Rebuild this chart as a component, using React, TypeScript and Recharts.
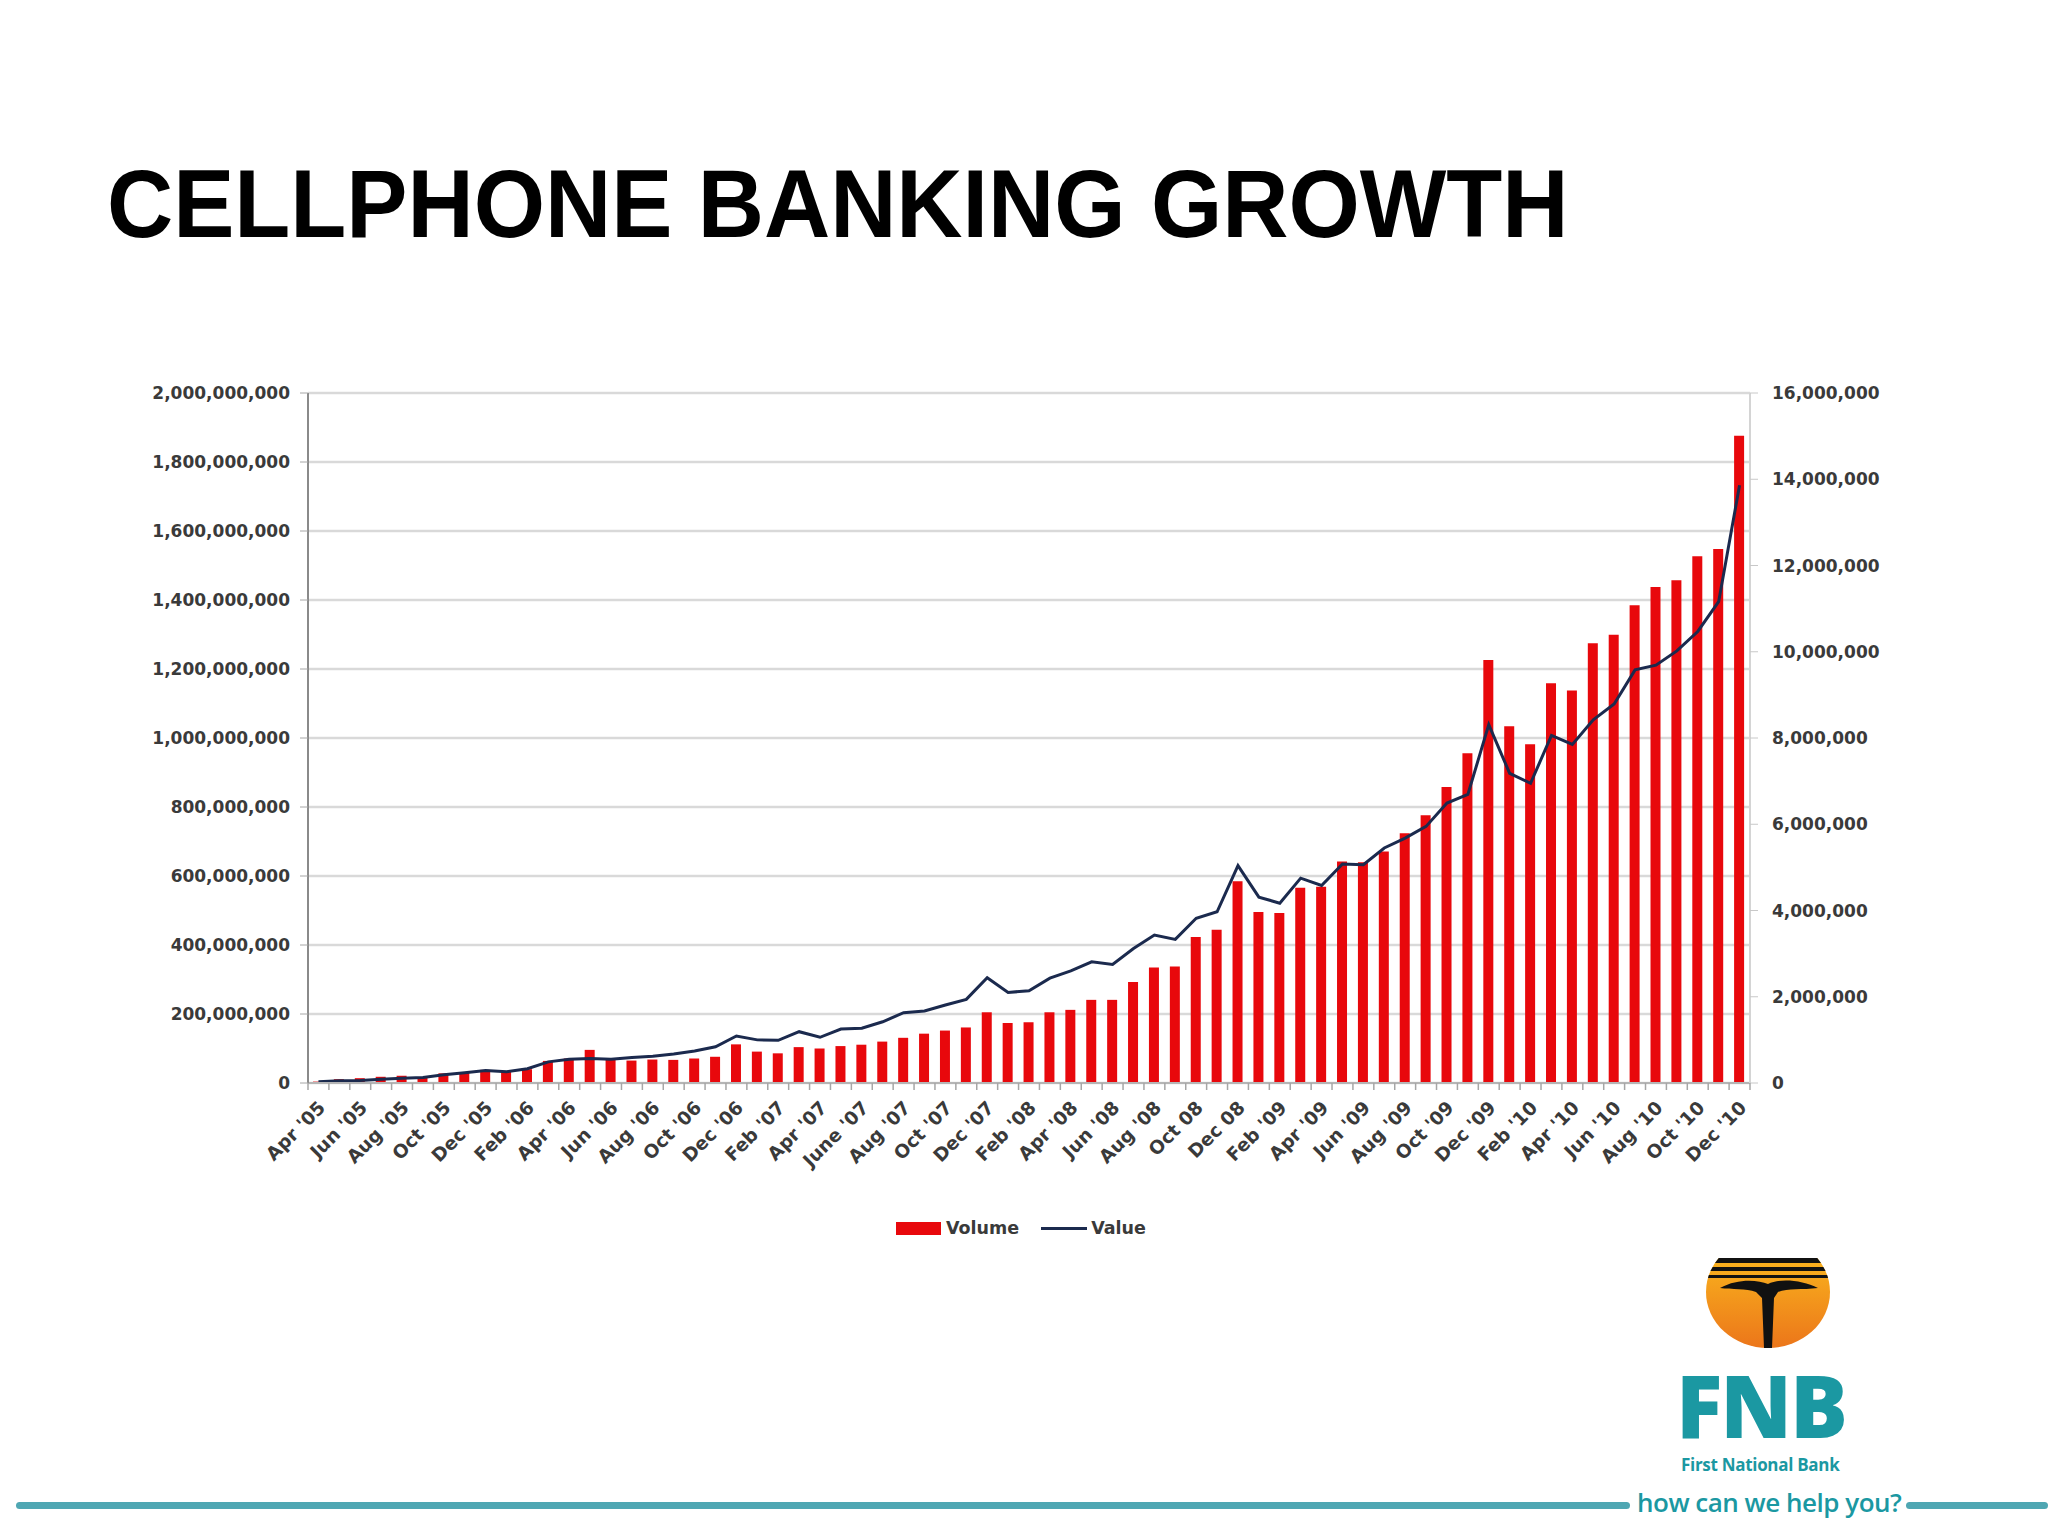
import React from "react";
import {
  ComposedChart,
  Bar,
  Line,
  XAxis,
  YAxis,
  CartesianGrid,
  Legend,
} from "recharts";

// months Apr '05 .. Dec '10
const categories = [
  "Apr 05", "May 05", "Jun 05", "Jul 05", "Aug 05", "Sep 05", "Oct 05", "Nov 05", "Dec 05",
  "Jan 06", "Feb 06", "Mar 06", "Apr 06", "May 06", "Jun 06", "Jul 06", "Aug 06", "Sep 06", "Oct 06", "Nov 06", "Dec 06",
  "Jan 07", "Feb 07", "Mar 07", "Apr 07", "May 07", "Jun 07", "Jul 07", "Aug 07", "Sep 07", "Oct 07", "Nov 07", "Dec 07",
  "Jan 08", "Feb 08", "Mar 08", "Apr 08", "May 08", "Jun 08", "Jul 08", "Aug 08", "Sep 08", "Oct 08", "Nov 08", "Dec 08",
  "Jan 09", "Feb 09", "Mar 09", "Apr 09", "May 09", "Jun 09", "Jul 09", "Aug 09", "Sep 09", "Oct 09", "Nov 09", "Dec 09",
  "Jan 10", "Feb 10", "Mar 10", "Apr 10", "May 10", "Jun 10", "Jul 10", "Aug 10", "Sep 10", "Oct 10", "Nov 10", "Dec 10",
];

// shown on every second month
const tickLabels = [
  "Apr '05", "Jun '05", "Aug '05", "Oct '05", "Dec '05", "Feb '06", "Apr '06",
  "Jun '06", "Aug '06", "Oct '06", "Dec '06", "Feb '07", "Apr '07", "June '07",
  "Aug '07", "Oct '07", "Dec '07", "Feb '08", "Apr '08", "Jun '08", "Aug '08",
  "Oct 08", "Dec 08", "Feb '09", "Apr '09", "Jun '09", "Aug '09", "Oct '09",
  "Dec '09", "Feb '10", "Apr '10", "Jun '10", "Aug '10", "Oct '10", "Dec '10",
];

// volume, millions
const volumeM = [
  4, 11, 14, 18, 21, 16, 28, 30, 38, 33,
  40, 64, 71, 96, 70, 65, 68, 67, 71, 76,
  112, 91, 86, 104, 100, 107, 111, 120, 131, 143,
  152, 161, 205, 174, 176, 205, 212, 241, 241, 293,
  335, 338, 423, 444, 585, 496, 493, 566, 569, 642,
  640, 671, 724, 776, 858, 956, 1226, 1034, 982, 1159,
  1138, 1275, 1299, 1385, 1438, 1457, 1527, 1548, 1876,
];

// value, millions
const valueM = [
  0.03, 0.05, 0.06, 0.085, 0.11, 0.13, 0.19, 0.24, 0.29, 0.26,
  0.33, 0.49, 0.55, 0.57, 0.55, 0.59, 0.62, 0.67, 0.74, 0.84,
  1.09, 1.0, 0.99, 1.19, 1.06, 1.25, 1.27, 1.42, 1.63, 1.67,
  1.81, 1.94, 2.44, 2.1, 2.14, 2.43, 2.6, 2.81, 2.75, 3.12,
  3.43, 3.33, 3.82, 3.97, 5.04, 4.31, 4.17, 4.75, 4.58, 5.08,
  5.06, 5.45, 5.68, 5.95, 6.49, 6.69, 8.31, 7.18, 6.95, 8.06,
  7.85, 8.42, 8.79, 9.58, 9.69, 10.02, 10.47, 11.16, 13.86,
];

const volumeTicks = [0, 2e8, 4e8, 6e8, 8e8, 1e9, 1.2e9, 1.4e9, 1.6e9, 1.8e9, 2e9];
const valueTicks = [0, 2e6, 4e6, 6e6, 8e6, 10e6, 12e6, 14e6, 16e6];

const data = categories.map((month, i) => ({
  month,
  volume: volumeM[i] * 1e6,
  value: valueM[i] * 1e6,
}));

const PLOT_LEFT = 308;
const PLOT_RIGHT = 1750;
const half = (PLOT_RIGHT - PLOT_LEFT) / categories.length / 2;

const tickFont = {
  fontFamily: "DejaVu Sans",
  fontWeight: "bold" as const,
  fontSize: 17,
  fill: "#3a3a3a",
};
const fmt = (v: number) => v.toLocaleString("en-US");

const TEAL = "#1b98a2";

function MonthTick(props: any) {
  const { x, y, index } = props;
  const show = index % 2 === 0;
  const tx = x + 8;
  const ty = y + 26;
  return (
    <g>
      <line x1={x - half} x2={x - half} y1={y} y2={y + 7} stroke="#a6a6a6" strokeWidth={1.5} />
      {index === categories.length - 1 && (
        <line x1={x + half} x2={x + half} y1={y} y2={y + 7} stroke="#a6a6a6" strokeWidth={1.5} />
      )}
      {show && (
        <text
          x={tx}
          y={ty}
          textAnchor="end"
          transform={`rotate(-45 ${tx} ${ty})`}
          {...tickFont}
          fontSize={18.5}
        >
          {tickLabels[index / 2]}
        </text>
      )}
    </g>
  );
}

function LegendBox() {
  const txt = { color: "#3a3a3a" };
  return (
    <div style={{ display: "flex", alignItems: "center", fontFamily: "DejaVu Sans", fontWeight: "bold", fontSize: 17.5, color: "#3a3a3a" }}>
      <span style={{ width: 45, height: 13, background: "#e8080c", display: "inline-block", marginRight: 5 }} />
      <span style={txt}>Volume</span>
      <span style={{ width: 46, height: 3, background: "#1b2a4e", display: "inline-block", margin: "0 4px 0 22px" }} />
      <span style={txt}>Value</span>
    </div>
  );
}

function Logo() {
  return (
    <svg width={140} height={100} style={{ position: "absolute", left: 1698, top: 1258 }} viewBox="0 0 140 100">
      <defs>
        <linearGradient id="bowl" x1="0" y1="0" x2="0" y2="1">
          <stop offset="0" stopColor="#f9b21d" />
          <stop offset="1" stopColor="#ea6f1a" />
        </linearGradient>
        <clipPath id="disc">
          <ellipse cx={70} cy={34} rx={62} ry={56} />
        </clipPath>
      </defs>
      <g clipPath="url(#disc)">
        <rect x={0} y={0} width={140} height={100} fill="url(#bowl)" />
        <rect x={0} y={0} width={140} height={5} fill="#111" />
        <rect x={0} y={9} width={140} height={4} fill="#111" />
        <rect x={0} y={17} width={140} height={3} fill="#111" />
      </g>
      <path
        d="M22 30 C40 20 60 22 70 26 C82 20 104 22 120 30 C104 32 90 30 80 34 L76 40 L74 90 L66 90 L64 40 L58 34 C48 30 34 32 22 30 Z"
        fill="#111"
      />
    </svg>
  );
}

export default function App() {
  return (
    <div style={{ position: "absolute", left: 0, top: 0, width: 2048, height: 1536, background: "#ffffff", overflow: "hidden" }}>
      <div
        style={{
          position: "absolute",
          left: 107,
          top: 155,
          fontFamily: "Liberation Sans",
          fontWeight: "bold",
          fontSize: 97,
          lineHeight: 1,
          color: "#000",
          whiteSpace: "nowrap",
          transform: "scaleX(0.945)",
          transformOrigin: "left top",
        }}
      >
        CELLPHONE BANKING GROWTH
      </div>

      <div style={{ position: "absolute", left: 0, top: 0 }}>
        <ComposedChart
          width={2048}
          height={1300}
          data={data}
          margin={{ top: 393, right: 0, bottom: 42, left: 100 }}
        >
          <CartesianGrid yAxisId="vol" vertical={false} stroke="#d9d9d9" strokeWidth={2.5} />
          <XAxis
            dataKey="month"
            interval={0}
            height={135}
            tickSize={0}
            tickMargin={0}
            tick={<MonthTick />}
            axisLine={{ stroke: "#b5b5b5", strokeWidth: 2 }}
            tickLine={false}
          />
          <YAxis
            yAxisId="vol"
            width={208}
            domain={[0, 2e9]}
            ticks={volumeTicks}
            tickFormatter={fmt}
            tick={tickFont}
            tickSize={8}
            tickMargin={10}
            tickLine={{ stroke: "#a6a6a6" }}
            axisLine={{ stroke: "#8a8a8a", strokeWidth: 2 }}
          />
          <YAxis
            yAxisId="val"
            orientation="right"
            width={298}
            domain={[0, 16e6]}
            ticks={valueTicks}
            tickFormatter={fmt}
            tick={{ ...tickFont, textAnchor: "start" }}
            tickSize={8}
            tickMargin={14}
            tickLine={{ stroke: "#c8c8c8" }}
            axisLine={{ stroke: "#d4d4d4", strokeWidth: 2 }}
          />
          <Legend
            verticalAlign="bottom"
            height={40}
            content={() => <LegendBox />}
            wrapperStyle={{ left: 896, width: 320 }}
          />
          <Bar
            yAxisId="vol"
            dataKey="volume"
            name="Volume"
            fill="#e8080c"
            barSize={10}
            isAnimationActive={false}
          />
          <Line
            yAxisId="val"
            dataKey="value"
            name="Value"
            type="linear"
            stroke="#1b2a4e"
            strokeWidth={3}
            dot={false}
            isAnimationActive={false}
          />
        </ComposedChart>
      </div>

      <Logo />
      <div
        style={{
          position: "absolute",
          left: 1676,
          top: 1362,
          fontFamily: "Open Sans",
          fontWeight: 800,
          fontSize: 86,
          lineHeight: 1,
          color: TEAL,
          letterSpacing: -2,
        }}
      >
        FNB
      </div>
      <div
        style={{
          position: "absolute",
          left: 1681,
          top: 1456,
          fontFamily: "Open Sans",
          fontWeight: 700,
          fontSize: 17,
          lineHeight: 1,
          color: TEAL,
          letterSpacing: -0.3,
        }}
      >
        First National Bank
      </div>

      <div style={{ position: "absolute", left: 16, top: 1502, width: 1614, height: 7, borderRadius: 4, background: "#4fa7b3" }} />
      <div style={{ position: "absolute", left: 1906, top: 1502, width: 142, height: 7, borderRadius: 4, background: "#4fa7b3" }} />
      <div
        style={{
          position: "absolute",
          left: 1637,
          top: 1489,
          fontFamily: "Open Sans",
          fontWeight: 600,
          fontSize: 26,
          lineHeight: 1,
          color: TEAL,
          letterSpacing: -0.5,
          whiteSpace: "nowrap",
        }}
      >
        how can we help you?
      </div>
    </div>
  );
}
